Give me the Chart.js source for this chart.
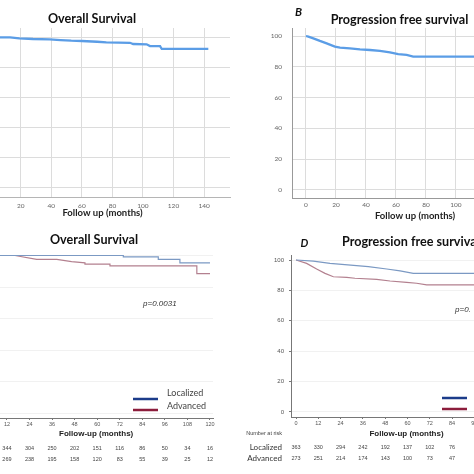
<!DOCTYPE html>
<html><head><meta charset="utf-8">
<script src="https://cdn.jsdelivr.net/npm/chart.js@4.4.0/dist/chart.umd.min.js"></script>
<style>
html,body{margin:0;padding:0;width:474px;height:474px;overflow:hidden;background:#fff}
body{position:relative}
canvas{position:absolute}
.t{position:absolute;font-family:Lato,"Open Sans",sans-serif;font-weight:700;color:#111;white-space:nowrap;line-height:1}
</style></head><body>
<canvas id="cA" width="305" height="230" style="left:-70px;top:0px"></canvas>
<canvas id="cB" width="320" height="230" style="left:240px;top:0px"></canvas>
<canvas id="cC" width="280" height="244" style="left:-60px;top:230px"></canvas>
<canvas id="cD" width="320" height="244" style="left:240px;top:230px"></canvas>
<div class="t" style="left:92px;top:19px;transform:translate(-50%,-50%);font-size:12.6px">Overall Survival</div>
<div class="t" style="left:298.5px;top:12px;transform:translate(-50%,-50%);font-size:11.5px;font-style:italic">B</div>
<div class="t" style="left:399.5px;top:19.5px;transform:translate(-50%,-50%);font-size:12.6px">Progression free survival</div>
<div class="t" style="left:94px;top:240px;transform:translate(-50%,-50%);font-size:12.6px">Overall Survival</div>
<div class="t" style="left:304.5px;top:242px;transform:translate(-50%,-50%);font-size:11px;font-style:italic">D</div>
<div class="t" style="left:342px;top:242px;transform:translate(0,-50%);font-size:12.6px">Progression free survival</div>
<script>
// ---------- DATA ----------
// Panel A: overall survival (all patients)
const monthsA = [0, 6, 13, 19, 28, 39, 46, 53, 60, 70, 76, 91.5, 93.6, 102.4, 104.6, 111.2, 112.3, 142.8];
const survA   = [100, 99.8, 99.8, 99.1, 98.7, 98.5, 98, 97.6, 97.4, 96.9, 96.5, 96.2, 95.4, 95.2, 94, 94, 92.1, 92.1];
// Panel B: progression free survival (all patients)
const monthsB = [0, 1.6, 4.9, 9.3, 13.8, 19.3, 22.7, 29.3, 36, 42.7, 49.3, 56, 61.5, 67.1, 71.5, 142];
const survB   = [100, 99.6, 98.5, 96.8, 95.2, 93.1, 92.4, 92, 91.3, 90.9, 90.3, 89.4, 88.3, 87.7, 86.6, 86.6];
// Panel C: overall survival by stage
const monthsCLoc = [0, 73.9, 73.9, 92.5, 92.5, 104, 104, 120];
const survCLoc   = [100, 100, 99.2, 99.2, 97.6, 97.6, 95.4, 95.4];
const monthsCAdv = [0, 16.3, 27.8, 38.5, 46.4, 53.5, 53.5, 66.8, 66.8, 113, 113, 120];
const survCAdv   = [100, 100, 97.6, 97.6, 96.1, 95.4, 94.6, 94.6, 93.5, 93.5, 88.5, 88.5];
// Panel D: progression free survival by stage
const monthsDLoc = [0, 9.3, 18.3, 32.6, 38.9, 48.8, 56, 63.1, 120];
const survDLoc   = [100, 99.3, 97.8, 96.3, 95.6, 94.1, 92.8, 91.2, 91.2];
const monthsDAdv = [0, 5.7, 11.1, 15.6, 20.1, 27.3, 31.7, 43.4, 50.6, 59.5, 64.9, 70.3, 120];
const survDAdv   = [100, 97.8, 94.1, 91.2, 89, 88.6, 88, 87.3, 86.2, 85.3, 84.7, 83.6, 83.6];
// Groups and numbers at risk
const groups = ['Localized', 'Advanced'];
const riskMonths = [0, 12, 24, 36, 48, 60, 72, 84, 96, 108, 120];
const riskCLoc = [363, 344, 304, 250, 202, 151, 116, 86, 50, 34, 16];
const riskCAdv = [273, 269, 238, 195, 158, 120, 83, 55, 39, 25, 12];
const riskDMonths = [0, 12, 24, 36, 48, 60, 72, 84];
const riskDLoc = [363, 330, 294, 242, 192, 137, 102, 76];
const riskDAdv = [273, 251, 214, 174, 143, 100, 73, 47];
const pTextC = 'p=0.0031';
const pTextD = 'p=0.';
const xTitleAB = 'Follow up (months)';
const xTitleCD = 'Follow-up (months)';

// ---------- STYLE ----------
const allBlue = '#5b9de6';
const curveColors = ['#7b99c3', '#b3808f'];
const legendColors = ['#1c3c8a', '#8c1d3c'];

const pts = (xs, ys) => xs.map((m, i) => ({x: m, y: ys[i]}));

const annot = {
  id: 'annot',
  afterDraw(chart, args, o) {
    const {ctx, chartArea: a, scales: {x, y}} = chart;
    ctx.save();
    if (o.pText) {
      ctx.font = 'italic 8px "Liberation Sans", Arial, sans-serif';
      ctx.fillStyle = '#333'; ctx.textAlign = 'left'; ctx.textBaseline = 'middle';
      ctx.fillText(o.pText, x.getPixelForValue(o.pAt[0]), y.getPixelForValue(o.pAt[1]));
    }
    if (o.legend) {
      groups.forEach((g, i) => {
        ctx.strokeStyle = legendColors[i]; ctx.lineWidth = 2.5;
        ctx.beginPath();
        ctx.moveTo(a.right - 80, a.bottom - 19 + i * 11);
        ctx.lineTo(a.right - 55, a.bottom - 19 + i * 11);
        ctx.stroke();
        ctx.font = '9px Lato, sans-serif'; ctx.fillStyle = '#444';
        ctx.textAlign = 'left'; ctx.textBaseline = 'middle';
        ctx.fillText(g, a.right - 46, a.bottom - 24.5 + i * 12.5);
      });
    }
    if (o.risk) {
      ctx.textBaseline = 'middle';
      ctx.textAlign = 'right';
      ctx.font = '5.5px "Liberation Sans", Arial, sans-serif'; ctx.fillStyle = '#444';
      ctx.fillText('Number at risk', a.left - 9, a.bottom + 16);
      o.risk.rows.forEach((row, i) => {
        const yy = a.bottom + 30 + i * 11;
        ctx.textAlign = 'right';
        ctx.font = '8px Lato, sans-serif'; ctx.fillStyle = '#333';
        ctx.fillText(groups[i], a.left - 9, yy);
        ctx.textAlign = 'center';
        ctx.font = '5.5px "Liberation Sans", Arial, sans-serif'; ctx.fillStyle = '#444';
        row.forEach((v, j) => ctx.fillText(String(v), x.getPixelForValue(o.risk.months[j]), yy));
      });
    }
    ctx.restore();
  }
};

function fixW(w) { return s => { s.width = w; }; }
function fixH(h) { return s => { s.height = h; }; }

function makeAB(id, data, o) {
  return new Chart(document.getElementById(id), {
    type: 'line',
    data: { datasets: [{ data, borderColor: allBlue, borderWidth: 2.3, pointRadius: 0, tension: 0, fill: false }] },
    options: {
      responsive: false, animation: false,
      layout: { padding: { top: 28, right: o.padRight, left: 0, bottom: 0 } },
      plugins: { legend: { display: false }, tooltip: { enabled: false } },
      scales: {
        x: {
          type: 'linear', min: o.xmin, max: o.xmax, afterFit: fixH(o.xh),
          ticks: { stepSize: 20, includeBounds: false, padding: o.tickPad, color: '#666', font: { size: 6.5, family: 'Lato, sans-serif' } },
          grid: { color: '#dcdcdc', drawTicks: false },
          border: { color: o.axisColor, width: 1 },
          title: { display: true, text: xTitleAB, color: '#222', font: { size: 9.5, weight: 'bold', family: 'Lato, sans-serif' }, padding: { top: 0, bottom: o.titlePad } }
        },
        y: {
          min: o.ymin, max: o.ymax, afterFit: fixW(o.yw),
          ticks: { stepSize: 20, includeBounds: false, padding: 10, color: '#666', font: { size: 6.5, family: 'Lato, sans-serif' } },
          grid: { color: '#dcdcdc', drawTicks: false },
          border: { color: o.axisColor, width: 1 }
        }
      }
    }
  });
}

makeAB('cA', pts(monthsA, survA), { xmin: -10, xmax: 157, ymin: -6, ymax: 106, yw: 45, xh: 33, padRight: 5, tickPad: 5.1, titlePad: 11.3, axisColor: '#b5b5b5' });
makeAB('cB', pts(monthsB, survB), { xmin: -9.3, xmax: 154.7, ymin: -5.2, ymax: 105.2, yw: 52, xh: 32, padRight: 22, tickPad: 3.1, titlePad: 8.8, axisColor: '#999' });

function makeCD(id, sets, o) {
  return new Chart(document.getElementById(id), {
    type: 'line',
    data: { datasets: sets.map((d, i) => ({ label: groups[i], data: d, borderColor: curveColors[i], borderWidth: 1.2, pointRadius: 0, tension: 0, fill: false })) },
    options: {
      responsive: false, animation: false,
      layout: { padding: { top: o.padTop, right: o.padRight, left: 0, bottom: 0 } },
      plugins: { legend: { display: false }, tooltip: { enabled: false }, annot: o.annot },
      scales: {
        x: {
          type: 'linear', min: -2.7, max: 121.6, afterFit: fixH(o.xh),
          ticks: { stepSize: 12, includeBounds: false, padding: 1.2, color: '#555', font: { size: 5.5, family: '"Liberation Sans", Arial, sans-serif' } },
          grid: { drawOnChartArea: false, drawTicks: true, tickLength: 2, tickColor: '#777' },
          border: { color: '#777', width: 1 },
          title: { display: true, text: xTitleCD, color: '#222', font: { size: 8, weight: 'bold', family: '"Liberation Sans", Arial, sans-serif' }, padding: { top: 0, bottom: 35.2 } }
        },
        y: {
          min: o.ymin, max: 103.3, afterFit: fixW(o.yw),
          ticks: { stepSize: 20, includeBounds: false, padding: 5, color: '#555', font: { size: 6, family: '"Liberation Sans", Arial, sans-serif' } },
          grid: { color: '#f1f1f1', drawTicks: true, tickLength: 2, tickColor: '#777' },
          border: { color: '#777', width: 1 }
        }
      }
    },
    plugins: [annot]
  });
}

makeCD('cC', [pts(monthsCLoc, survCLoc), pts(monthsCAdv, survCAdv)], {
  padTop: 20.3, padRight: 7, xh: 56, yw: 39.3, ymin: -2.8,
  annot: { pText: pTextC, pAt: [84.4, 69.3], legend: true, risk: { months: riskMonths, rows: [riskCLoc, riskCAdv] } }
});
makeCD('cD', [pts(monthsDLoc, survDLoc), pts(monthsDAdv, survDAdv)], {
  padTop: 25, padRight: 38, xh: 57, yw: 51, ymin: -3.3,
  annot: { pText: pTextD, pAt: [85.6, 67.1], legend: true, risk: { months: riskDMonths, rows: [riskDLoc, riskDAdv] } }
});
</script>
</body></html>
